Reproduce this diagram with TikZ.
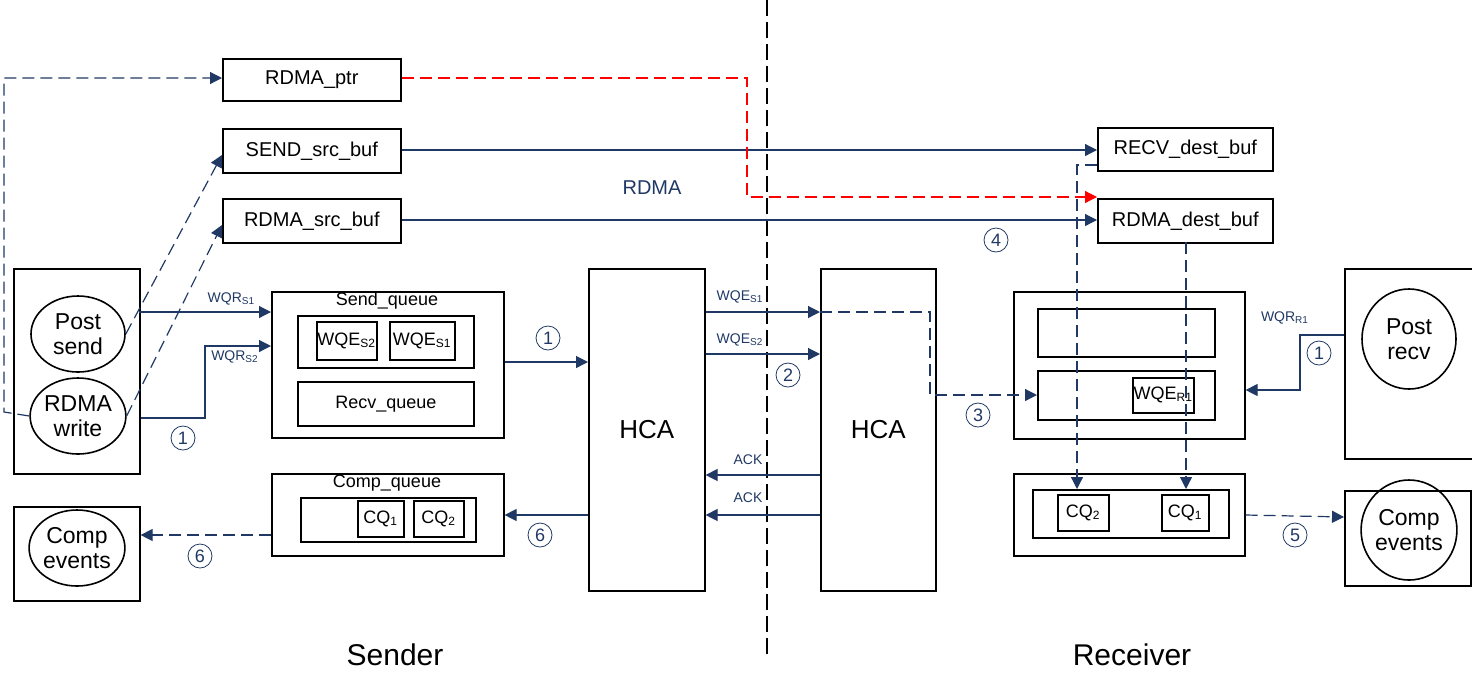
\documentclass[tikz,border=0pt]{standalone}
\usepackage{fontspec}
\setmainfont{Liberation Sans}
\usetikzlibrary{arrows.meta, shapes.geometric}
\definecolor{navy}{HTML}{1F3864}
\begin{document}
\begin{tikzpicture}[x=0.5pt, y=-0.5pt, font=\fontsize{10}{12}\selectfont,
		box/.style = {draw, thick, anchor = north west, inner sep = 0},
		arr/.style = {navy, semithick, -{Triangle[width=6pt, length=6pt]}},
		darr/.style = {arr, dash pattern = on 6pt off 3pt},
		num/.style = {draw = navy, circle, thin, text = navy, inner sep = 1pt, minimum size = 12pt, font = \fontsize{9}{9}\selectfont},
		lbl/.style = {navy, font = \fontsize{7}{8}\selectfont},
		bubble/.style = {draw, thick, ellipse, align = center, inner sep = 0, font = \fontsize{11.5}{12.5}\selectfont}]
	\useasboundingbox (0,0) rectangle (1472,682);
	\draw [thick, dash pattern = on 8pt off 3pt] (767,0) -- (767,655);

	% buffers
	\node (ptr) [box, minimum width = 89pt, minimum height = 21pt] at (222,58) {};
	\node at (ptr.center) {RDMA\_ptr};
	\node (ssrc) [box, minimum width = 89pt, minimum height = 22pt] at (222,128) {};
	\node at (ssrc.center) {SEND\_src\_buf};
	\node (rsrc) [box, minimum width = 89pt, minimum height = 22pt] at (222,198) {};
	\node at (rsrc.center) {RDMA\_src\_buf};
	\node (rdst) [box, minimum width = 87.5pt, minimum height = 21.5pt] at (1097,127) {};
	\node at (rdst.center) {RECV\_dest\_buf};
	\node (ddst) [box, minimum width = 87.5pt, minimum height = 22pt] at (1097,198) {};
	\node at (ddst.center) {RDMA\_dest\_buf};

	% sender side
	\node (app) [box, minimum width = 63pt, minimum height = 102.5pt] at (13,268) {};
	\node (psend) [bubble, minimum width = 47pt, minimum height = 38pt] at (78,334) {Post\\send};
	\node (pwrite) [bubble, minimum width = 47pt, minimum height = 38pt] at (78,416) {RDMA\\write};
	\node (cev) [box, minimum width = 63pt, minimum height = 47pt] at (13,506) {};
	\node (cevs) [bubble, minimum width = 47pt, minimum height = 38pt] at (77,548) {Comp\\events};

	\node (sq) [box, minimum width = 116pt, minimum height = 73pt] at (271,291) {};
	\node at (387,301) {\small Send\_queue};
	\node (sqi) [box, minimum width = 88pt, minimum height = 26pt] at (297,315) {};
	\node (wqes2) [box, minimum width = 30pt, minimum height = 19pt] at (316,321) {};
	\node at (wqes2.center) {\small WQE\textsubscript{S2}};
	\node (wqes1) [box, minimum width = 32.5pt, minimum height = 19pt] at (389,321) {};
	\node at (wqes1.center) {\small WQE\textsubscript{S1}};
	\node (rq) [box, minimum width = 88pt, minimum height = 22pt] at (297,381) {};
	\node at (rq.center) {\small Recv\_queue};

	\node (cq) [box, minimum width = 116pt, minimum height = 41pt] at (271,473) {};
	\node at (387,483) {\small Comp\_queue};
	\node (cqi) [box, minimum width = 87.5pt, minimum height = 22pt] at (300,497) {};
	\node (cqa) [box, minimum width = 23pt, minimum height = 18pt] at (357,500) {};
	\node at (cqa.center) {\small CQ\textsubscript{1}};
	\node (cqb) [box, minimum width = 25pt, minimum height = 18pt] at (413,500) {};
	\node at (cqb.center) {\small CQ\textsubscript{2}};

	\node (hcas) [box, minimum width = 58pt, minimum height = 161pt] at (588,268) {};
	\node at (hcas.center) {\fontsize{13}{15}\selectfont HCA};
	\node (hcar) [box, minimum width = 57.5pt, minimum height = 161pt] at (820,268) {};
	\node at (hcar.center) {\fontsize{13}{15}\selectfont HCA};

	% receiver side
	\node (rq2) [box, minimum width = 115.5pt, minimum height = 73.5pt] at (1013,291) {};
	\node (rqa) [box, minimum width = 88.5pt, minimum height = 24pt] at (1037,308) {};
	\node (rqb) [box, minimum width = 88.5pt, minimum height = 24.5pt] at (1037,370) {};
	\node (wqer) [box, minimum width = 30.5pt, minimum height = 17.5pt] at (1132,377) {};
	\node at (wqer.center) {\small WQE\textsubscript{R1}};
	\node (rcq) [box, minimum width = 115.5pt, minimum height = 41pt] at (1013,473) {};
	\node (rcqi) [box, minimum width = 98pt, minimum height = 24pt] at (1032,489) {};
	\node (rcqb) [box, minimum width = 25.5pt, minimum height = 18pt] at (1057,494) {};
	\node at (rcqb.center) {\small CQ\textsubscript{2}};
	\node (rcqa) [box, minimum width = 23.5pt, minimum height = 18pt] at (1161,494) {};
	\node at (rcqa.center) {\small CQ\textsubscript{1}};
	\node (rapp) [box, minimum width = 64pt, minimum height = 95pt] at (1344,268) {};
	\node (precv) [bubble, minimum width = 47pt, minimum height = 50pt] at (1409,339) {Post\\recv};
	\node (rcev) [box, minimum width = 63pt, minimum height = 47.5pt] at (1344,490) {};
	\node (rcevs) [bubble, minimum width = 47pt, minimum height = 50pt] at (1409,530) {Comp\\events};

	\node at (395,655) {\fontsize{15}{18}\selectfont Sender};
	\node at (1132,655) {\fontsize{15}{18}\selectfont Receiver};

	% connectors
	\coordinate (a1) at (205,418);
	\coordinate (a2) at (205,346);
	\coordinate (d1) at (930,312);
	\coordinate (d2) at (930,395);
	\coordinate (r1) at (1300,335);
	\coordinate (r2) at (1300,390);
	\coordinate (p1) at (747,78);
	\coordinate (p2) at (747,197);
	\coordinate (l1) at (4,412);
	\coordinate (l2) at (4,78);
	\coordinate (c1) at (1077,165);
	\draw [arr] (139,312) -- (sq.west |- 0,312) node [lbl, pos = 0.7, above] {WQR\textsubscript{S1}};
	\draw [arr] (app.east |- a1) -- (a1) -- (a2) -- (sq.west |- a2);
	\node [lbl] at (235,357) {WQR\textsubscript{S2}};
	\draw [arr] (sq.east |- 0,362) -- (hcas.west |- 0,362);
	\draw [arr] (hcas.west |- 0,515) -- (cq.east |- 0,515);
	\draw [darr] (cq.west |- 0,535) -- (cev.east |- 0,535);
	\draw [arr] (hcas.east |- 0,312) -- (hcar.west |- 0,312);
	\draw [arr] (hcas.east |- 0,354) -- (hcar.west |- 0,354);
	\draw [arr] (hcar.west |- 0,475) -- (hcas.east |- 0,475);
	\draw [arr] (hcar.west |- 0,515) -- (hcas.east |- 0,515);
	\draw [darr] (hcar.west |- d1) -- (d1) -- (d2) -- (rqb.west |- d2);
	\draw [arr] (rapp.west |- r1) -- (r1) -- (r2) -- (rq2.east |- r2);
	\draw [darr] (rcq.east |- 0,515) -- (rcev.west |- 0,517);
	\draw [arr] (ssrc.east |- 0,150) -- (rdst.west |- 0,150);
	\draw [arr] (rsrc.east |- 0,220) -- (ddst.west |- 0,220);
	\draw [darr, red] (ptr.east |- p1) -- (p1) -- (p2) -- (ddst.west |- p2);
	\draw [darr] (pwrite.west) -- (l1) -- (l2) -- (ptr.west |- l2);
	\draw [darr] (psend.east) -- (222,155);
	\draw [darr] (pwrite.east) -- (222,225);
	\draw [darr] (rdst.west |- c1) -- (c1) -- (c1 |- rcqi.north);
	\draw [darr] (1186,242) -- (1186,489);

	\node [lbl] at (740,297) {WQE\textsubscript{S1}};
	\node [lbl] at (740,340) {WQE\textsubscript{S2}};
	\node [lbl] at (748,460) {ACK};
	\node [lbl] at (748,498) {ACK};
	\node [lbl] at (1285,318) {WQR\textsubscript{R1}};
	\node [navy, font = \fontsize{10}{12}\selectfont] at (652,188) {RDMA};
	\node [num] at (183,438) {1};
	\node [num] at (548,338) {1};
	\node [num] at (540,535) {6};
	\node [num] at (200,556) {6};
	\node [num] at (788,375) {2};
	\node [num] at (978,415) {3};
	\node [num] at (996,240) {4};
	\node [num] at (1295,535) {5};
	\node [num] at (1319,353) {1};
\end{tikzpicture}
\end{document}
